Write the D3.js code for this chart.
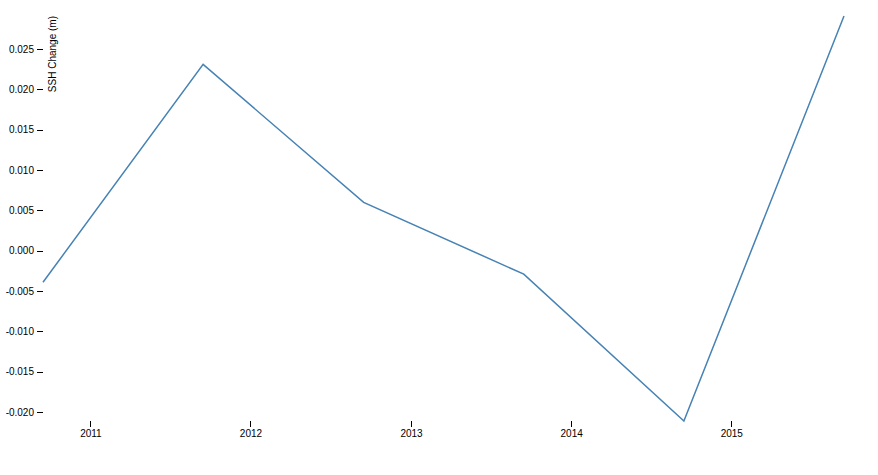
<!DOCTYPE html>
<html>
<head>
<meta charset="utf-8">
<script src="https://cdn.jsdelivr.net/npm/d3@7"></script>
<style>
  body { margin: 0; background: #fff; }
  .axis text { font: 10px "Liberation Sans", Arial, sans-serif; fill: #000; }
  .axis line { stroke: #000; shape-rendering: crispEdges; }
  .axis .domain { display: none; }
  .line { fill: none; stroke: steelblue; stroke-width: 1.5px; }
</style>
</head>
<body>
<script>
// Data
const dates = ["2010-09-15", "2011-09-15", "2012-09-15", "2013-09-15", "2014-09-15", "2015-09-15"];
const sshChange = [-0.0039, 0.0231, 0.0060, -0.0029, -0.0211, 0.0291];
const yAxisLabel = "SSH Change (m)";

const margin = {top: 16, right: 34, bottom: 54, left: 43};
const W = 878, H = 475;
const width = W - margin.left - margin.right;
const height = H - margin.top - margin.bottom;

const parse = d3.timeParse("%Y-%m-%d");
const data = dates.map((d, i) => ({date: parse(d), value: sshChange[i]}));

const x = d3.scaleTime().domain(d3.extent(data, d => d.date)).range([0, width]);
const y = d3.scaleLinear().domain(d3.extent(data, d => d.value)).range([height, 0]);

const svg = d3.select("body").append("svg")
  .attr("width", W).attr("height", H)
  .append("g")
  .attr("transform", `translate(${margin.left},${margin.top})`);

svg.append("g")
  .attr("class", "x axis")
  .attr("transform", `translate(0,${height})`)
  .call(d3.axisBottom(x).ticks(d3.timeYear.every(1)).tickFormat(d3.timeFormat("%Y")));

const yAxis = svg.append("g")
  .attr("class", "y axis")
  .call(d3.axisLeft(y).ticks(10).tickFormat(v => v.toFixed(3)));

yAxis.append("text")
  .attr("transform", "rotate(-90)")
  .attr("y", 6)
  .attr("dy", ".71em")
  .style("text-anchor", "end")
  .text(yAxisLabel);

svg.append("path")
  .datum(data)
  .attr("class", "line")
  .attr("d", d3.line().x(d => x(d.date)).y(d => y(d.value)));
</script>
</body>
</html>
